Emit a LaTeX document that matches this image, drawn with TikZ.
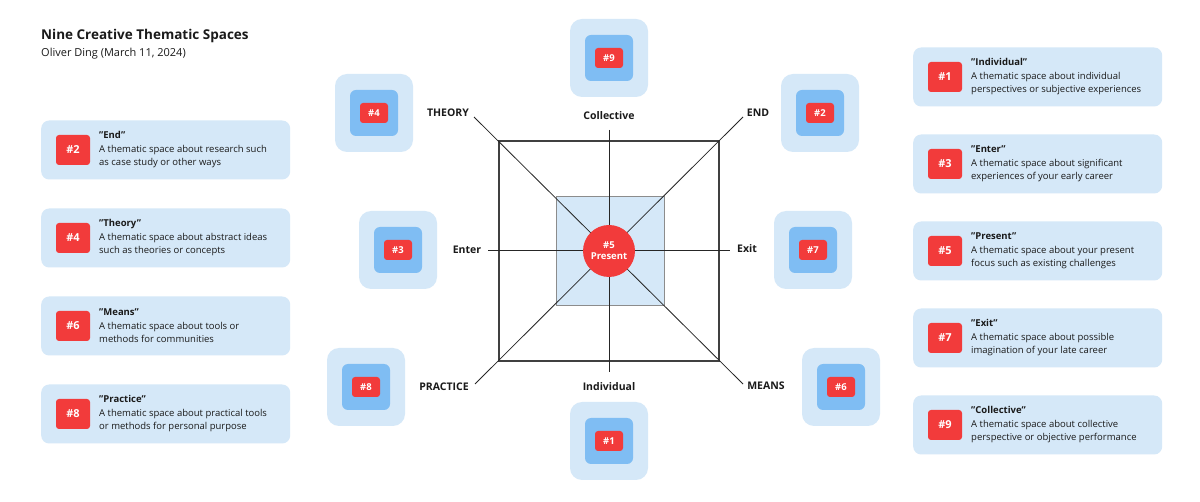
\documentclass[tikz,border=0pt]{standalone}
\usepackage{fontspec}
\setmainfont{Open Sans}
\definecolor{lb}{HTML}{D5E8F8}
\definecolor{mb}{HTML}{7FBDF3}
\definecolor{rd}{HTML}{F23B3B}
\definecolor{tx}{HTML}{1A1A1A}
\begin{document}
\begin{tikzpicture}[x=1pt,y=-1pt,
  card/.style={fill=lb,rounded corners=8pt,minimum width=249pt,minimum height=59pt,inner sep=0pt},
  badge/.style={fill=rd,rounded corners=3pt,minimum width=34pt,minimum height=30pt,text=white,font=\bfseries\fontsize{11}{13}\selectfont,inner sep=0pt},
  ctext/.style={anchor=west,align=left,text=tx,font=\fontsize{9.5}{13.5}\selectfont,inner sep=0pt},
  tile/.style={fill=lb,rounded corners=12pt,minimum size=78pt,inner sep=0pt},
  tin/.style={fill=mb,rounded corners=6pt,minimum width=48pt,minimum height=46pt,inner sep=0pt},
  tbadge/.style={fill=rd,rounded corners=3pt,minimum width=28pt,minimum height=20pt,text=white,font=\bfseries\fontsize{9.5}{11}\selectfont,inner sep=0pt},
  lab/.style={text=tx,font=\bfseries\fontsize{10.5}{12}\selectfont,inner sep=1pt},
  ln/.style={draw=black!85,line width=0.8pt}]
\useasboundingbox (0,0) rectangle (1200,502);
\fill[white] (0,0) rectangle (1200,502);
\node[anchor=west,text=tx,font=\bfseries\fontsize{13.5}{16}\selectfont,inner sep=0pt] (title) at (41,36) {Nine Creative Thematic Spaces};
\node[anchor=west,text=tx,font=\fontsize{11}{13}\selectfont,inner sep=0pt] (sub) at (41,54) {Oliver Ding (March 11, 2024)};
% cards
\foreach \n/\x/\y/\h/\t in {
 l2/41/150/\#2/{\textbf{"End"}\\A thematic space about research such\\as case study or other ways},
 l4/41/238/\#4/{\textbf{"Theory"}\\A thematic space about abstract ideas\\such as theories or concepts},
 l6/41/326/\#6/{\textbf{"Means"}\\A thematic space about tools or\\methods for communities},
 l8/41/414/\#8/{\textbf{"Practice"}\\A thematic space about practical tools\\or methods for personal purpose},
 r1/913/77/\#1/{\textbf{"Individual"}\\A thematic space about individual\\perspectives or subjective experiences},
 r3/913/164/\#3/{\textbf{"Enter"}\\A thematic space about significant\\experiences of your early career},
 r5/913/251/\#5/{\textbf{"Present"}\\A thematic space about your present\\focus such as existing challenges},
 r7/913/338/\#7/{\textbf{"Exit"}\\A thematic space about possible\\imagination of your late career},
 r9/913/425/\#9/{\textbf{"Collective"}\\A thematic space about collective\\perspective or objective performance}}{
  \node[card,anchor=west] (c\n) at (\x,\y) {};
  \node[badge] (b\n) at (\x+32,\y) {\h};
  \node[ctext] (t\n) at (\x+58,\y) {\t};
}
% tiles
\foreach \n/\x/\y/\h in {9/609/58/\#9,4/374/113/\#4,2/820/113/\#2,3/398/250/\#3,7/813/250/\#7,8/366/387/\#8,6/841/387/\#6,1/609/441/\#1}{
  \node[tile] (tile\n) at (\x,\y) {};
  \node[tin] (tin\n) at (\x,\y) {};
  \node[tbadge] (tb\n) at (\x,\y) {\h};
}
% diagram
\coordinate (TL) at (499,141); \coordinate (TR) at (719,141);
\coordinate (BL) at (499,361); \coordinate (BR) at (719,361);
\node[fill=lb,draw=black!45,line width=0.6pt,minimum width=108pt,minimum height=109pt,inner sep=0pt] (inner) at (610,250.5) {};
\draw[line width=1.2pt,draw=black!75] (TL) rectangle (BR);
\coordinate (eTL) at (474,117); \coordinate (eTR) at (743,117);
\coordinate (eBL) at (475,384); \coordinate (eBR) at (743,384);
\coordinate (vt) at (609,130); \coordinate (vb) at (609,372);
\coordinate (hl) at (488,250); \coordinate (hr) at (730,250);
\draw[ln] (eTL) -- (eBR);
\draw[ln] (eTR) -- (eBL);
\draw[ln] (vt) -- (vb);
\draw[ln] (hl) -- (hr);
\node[circle,fill=rd,minimum size=52pt,inner sep=0pt,text=white,align=center,font=\bfseries\fontsize{9.5}{11}\selectfont] (pres) at (609,251) {\#5\\Present};
\node[lab] (lcol) at (609,116) {Collective};
\node[lab] (lind) at (609,387) {Individual};
\node[lab] (lent) at (467,250) {Enter};
\node[lab] (lexi) at (747,249) {Exit};
\node[lab] (lth) at (448,113) {THEORY};
\node[lab] (lend) at (758,113) {END};
\node[lab] (lpr) at (444,387) {PRACTICE};
\node[lab] (lme) at (766,386) {MEANS};
\end{tikzpicture}
\end{document}
